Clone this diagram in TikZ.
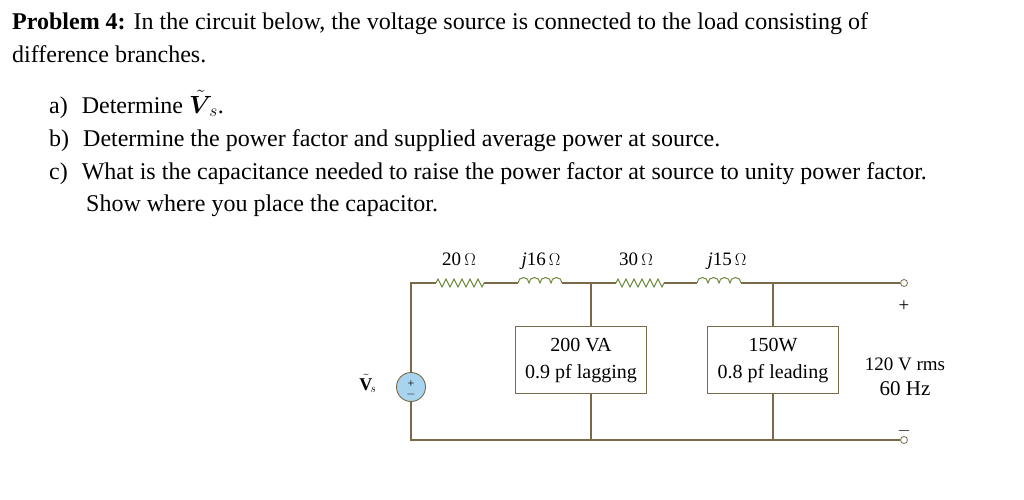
\documentclass[tikz,border=0pt]{standalone}
\usepackage{amsmath}
\usepackage{fontspec}
\setmainfont{Liberation Serif}
\usetikzlibrary{decorations.pathmorphing}
\definecolor{wire}{HTML}{7A6A4A}
\definecolor{comp}{HTML}{6A8A3A}
\definecolor{src}{HTML}{A8D4F0}
\begin{document}
\begin{tikzpicture}[x=1pt,y=-1pt,
  wr/.style={draw=wire,line width=1.1pt},
  res/.style={draw=comp,line width=1pt,decorate,decoration={zigzag,segment length=8pt,amplitude=4pt}},
  lbl/.style={font=\fontsize{19}{21}\selectfont,anchor=base},
  txt/.style={font=\fontsize{24}{28}\selectfont,anchor=base west,inner sep=0},
  ld/.style={draw=wire,line width=1.1pt,minimum width=131pt,minimum height=67pt,font=\fontsize{20}{27}\selectfont,align=center}]
\useasboundingbox (0,0) rectangle (1024,499);
\node[txt] at (12,29) {\textbf{Problem 4:} In the circuit below, the voltage source is connected to the load consisting of};
\node[txt] at (12,62) {difference branches.};
\node[txt] at (49,113) {a)\hspace{14pt}Determine $\tilde{\boldsymbol{V}}_{\!s}$.};
\node[txt] at (49,146) {b)\hspace{14pt}Determine the power factor and supplied average power at source.};
\node[txt] at (49,179) {c)\hspace{14pt}What is the capacitance needed to raise the power factor at source to unity power factor.};
\node[txt] at (86,211) {Show where you place the capacitor.};
% coordinates
\coordinate (tl) at (411,283);
\coordinate (bl) at (411,440);
\coordinate (n1) at (591,283);
\coordinate (n2) at (773,283);
\coordinate (b1) at (591,440);
\coordinate (b2) at (773,440);
\coordinate (tp) at (904,283);
\coordinate (tm) at (904,440);
\node[ld] (L1) at (581,360) {200 VA\\0.9 pf lagging};
\node[ld] (L2) at (773,360) {150W\\0.8 pf leading};
\node[circle,draw=wire,fill=src,line width=0.9pt,minimum size=29pt,inner sep=0,
  label={[font=\fontsize{12}{12}\selectfont,inner sep=0]center:\raisebox{5pt}{+}},
  ] (S) at (411,387) {};
\node[font=\fontsize{12}{12}\selectfont,inner sep=0] (Sm) at (411,394) {$-$};
\node[circle,draw=wire,fill=white,line width=0.8pt,minimum size=7pt,inner sep=0] (Tp) at (tp) {};
\node[circle,draw=wire,fill=white,line width=0.8pt,minimum size=7pt,inner sep=0] (Tm) at (tm) {};
% wires
\draw[wr] (S.north) -- (tl) -- (436,283);
\draw[res] (436,283) -- (484,283);
\draw[wr] (484,283) -- (518,283);
\draw[comp,line width=1pt] (518,283) \foreach \i in {0,...,3}{ arc[start angle=180,end angle=0,radius=5.5pt] } -- (562,283);
\draw[wr] (562,283) -- (616,283);
\draw[res] (616,283) -- (664,283);
\draw[wr] (664,283) -- (697,283);
\draw[comp,line width=1pt] (697,283) \foreach \i in {0,...,3}{ arc[start angle=180,end angle=0,radius=5.5pt] } -- (741,283);
\draw[wr] (741,283) -- (Tp.west);
\draw[wr] (S.south) -- (bl) -- (Tm.west);
\draw[wr] (n1) -- (n1 |- L1.north);
\draw[wr] (b1) -- (b1 |- L1.south);
\draw[wr] (n2) -- (L2.north);
\draw[wr] (b2) -- (L2.south);
% labels
\node[lbl] at (459,265) {20\,$\Omega$};
\node[lbl] at (541,265) {\textit{j}16\,$\Omega$};
\node[lbl] at (636,265) {30\,$\Omega$};
\node[lbl] at (727,265) {\textit{j}15\,$\Omega$};
\node[lbl,font=\fontsize{18}{20}\selectfont] at (368,390) {$\tilde{\mathbf{V}}_{\!s}$};
\node[lbl] at (904,311) {+};
\node[lbl] at (904,435) {$-$};
\node[lbl] at (905,370) {120 V rms};
\node[font=\fontsize{21}{21}\selectfont,anchor=base] at (905,395) {60 Hz};
\end{tikzpicture}
\end{document}
